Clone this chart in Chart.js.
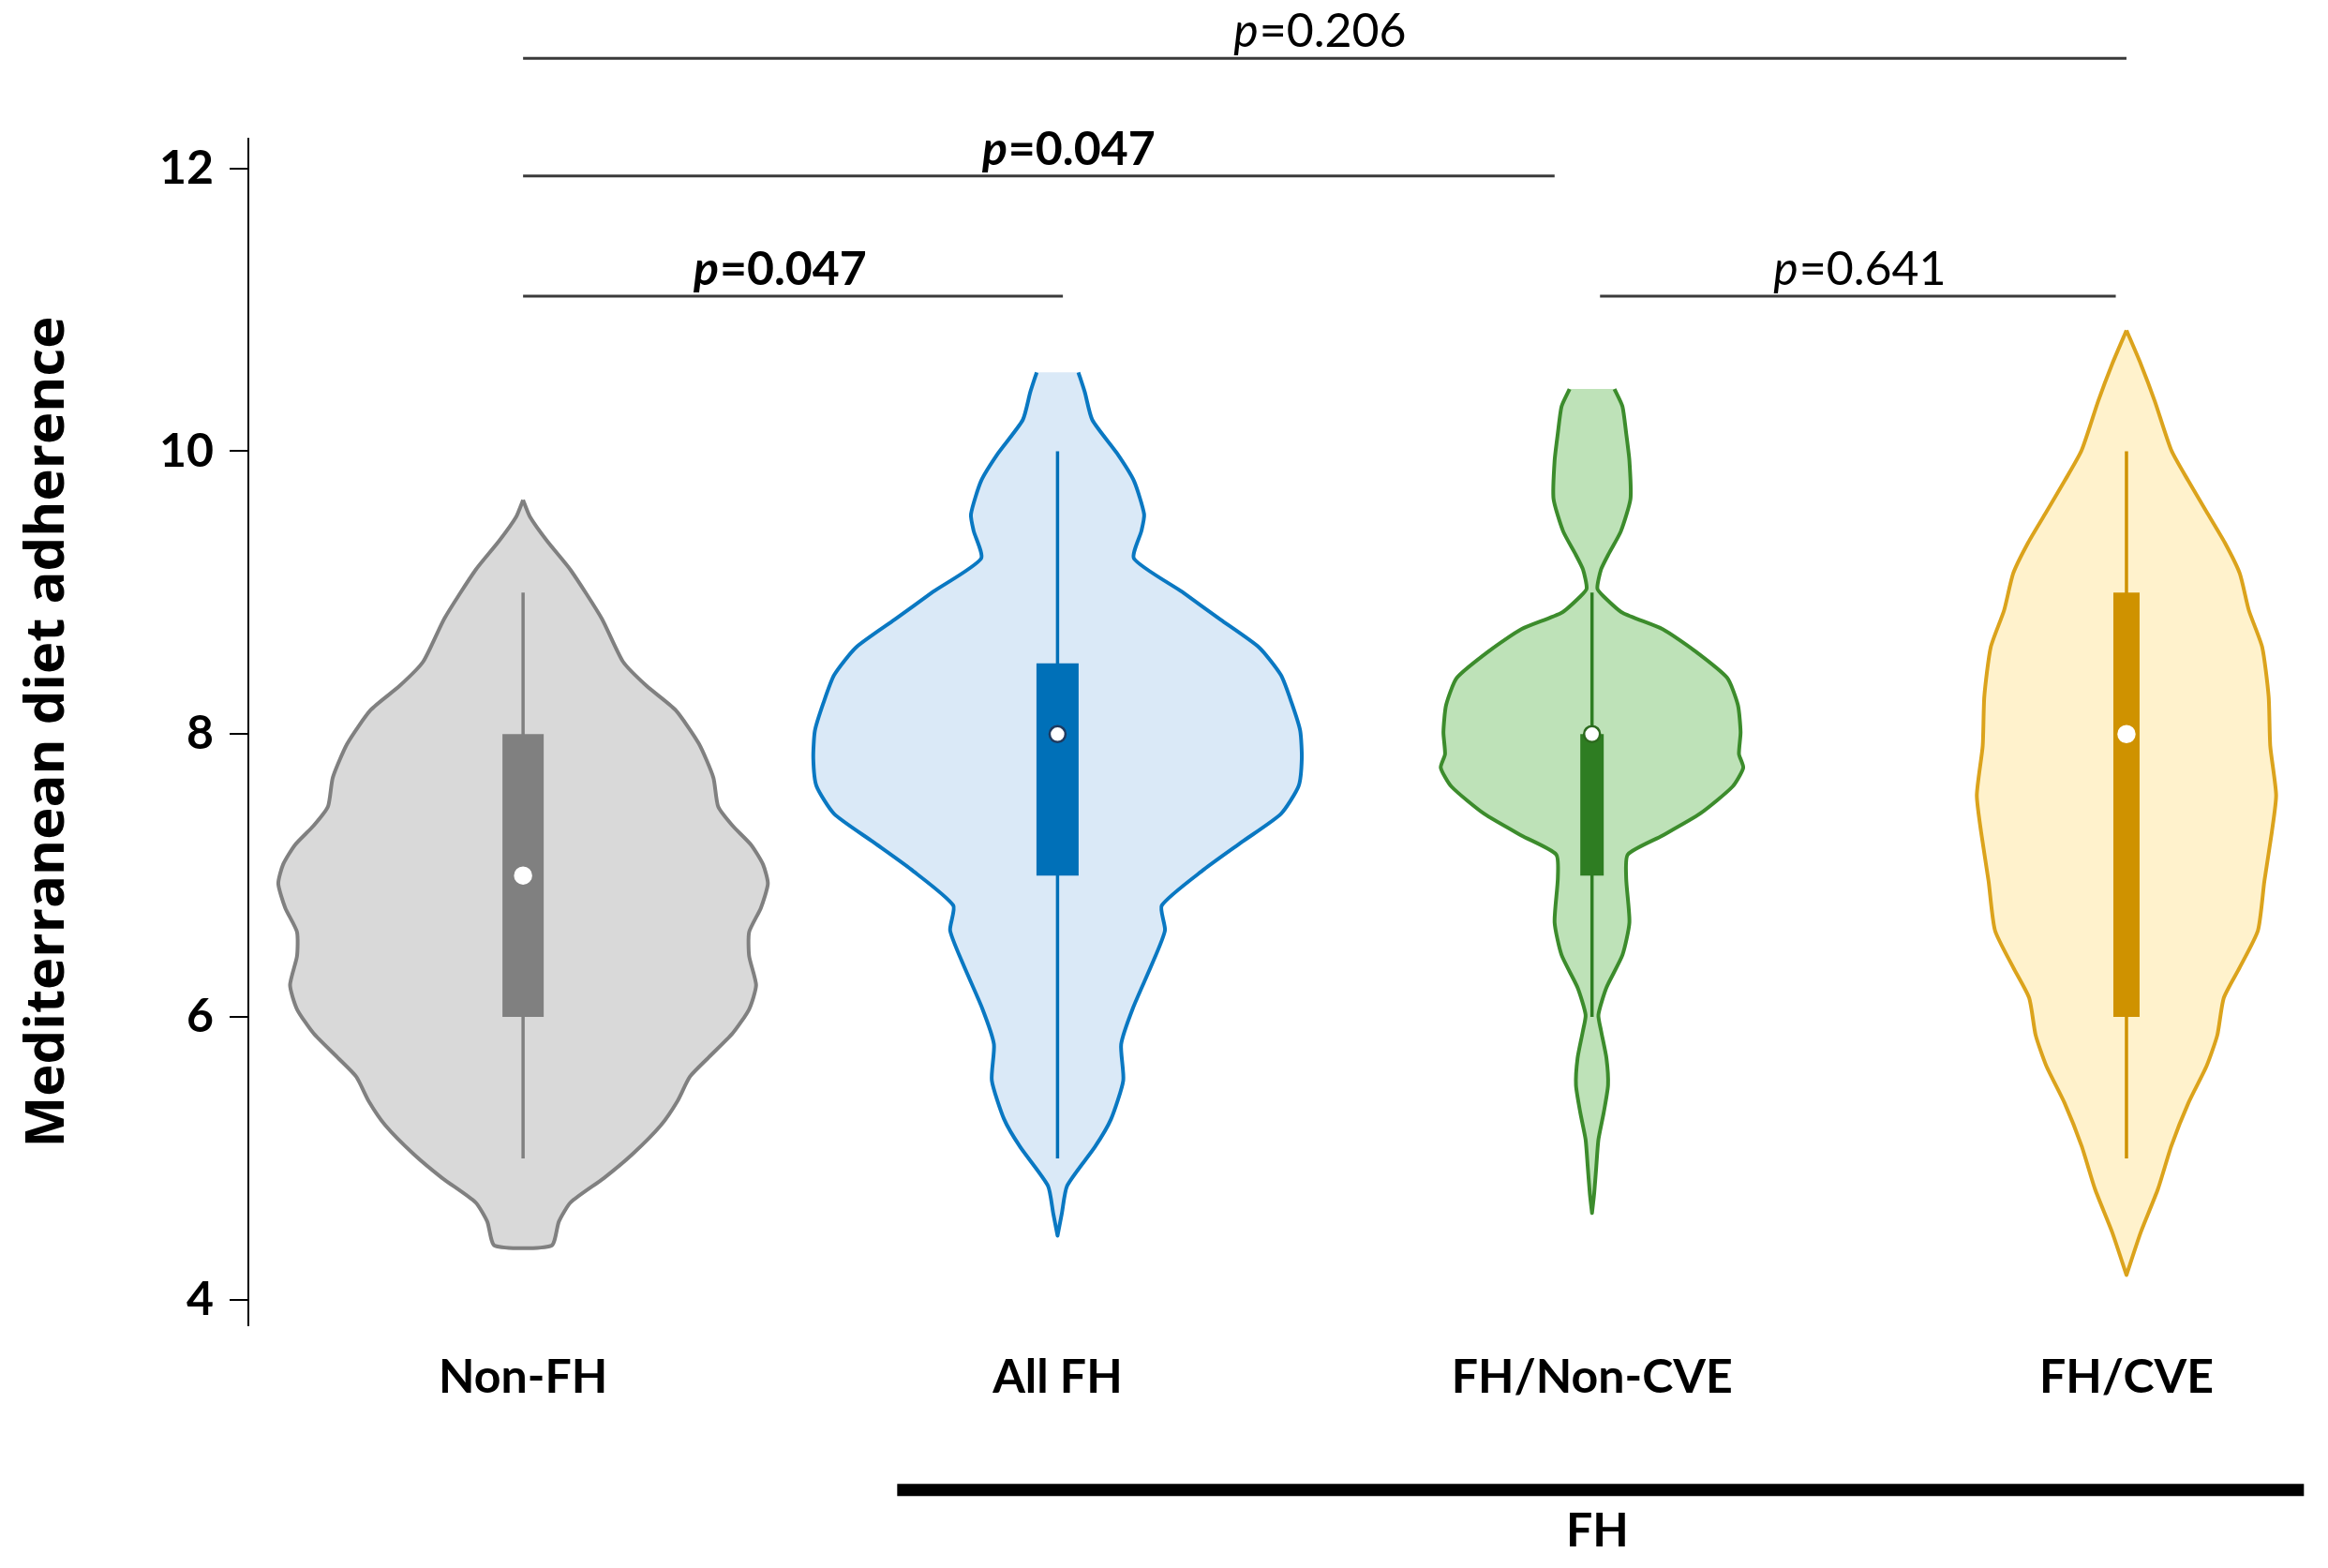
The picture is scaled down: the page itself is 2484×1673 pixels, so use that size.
<!DOCTYPE html>
<html>
<head>
<meta charset="utf-8">
<script src="https://cdn.jsdelivr.net/npm/chart.js@4.4.1/dist/chart.umd.min.js"></script>
<style>
  html, body { margin: 0; padding: 0; background: #fff; }
  canvas { display: block; }
</style>
</head>
<body>
<canvas id="violin" width="2484" height="1673"></canvas>
<script>
const categories = ['Non-FH', 'All FH', 'FH/Non-CVE', 'FH/CVE'];
const yTicks = [4, 6, 8, 10, 12];

// violin outlines read top to bottom: score level and half width (in category units)
const nonFhLevels = [9.655, 9.536, 9.365, 9.160, 8.819, 8.512, 8.341, 8.171, 7.932, 7.693, 7.488, 7.352, 7.215, 7.078, 6.942, 6.771, 6.601, 6.430, 6.225, 6.055, 5.884, 5.713, 5.577, 5.406, 5.235, 5.031, 4.860, 4.689, 4.553, 4.382];
const nonFhWidths = [0, 0.013, 0.045, 0.089, 0.147, 0.187, 0.231, 0.285, 0.329, 0.356, 0.365, 0.392, 0.427, 0.449, 0.458, 0.445, 0.423, 0.423, 0.436, 0.423, 0.392, 0.347, 0.312, 0.289, 0.258, 0.205, 0.151, 0.089, 0.067, 0.053];

const allFhLevels = [10.558, 10.418, 10.222, 9.987, 9.790, 9.555, 9.437, 9.241, 9.006, 8.809, 8.613, 8.417, 8.221, 8.024, 7.828, 7.632, 7.436, 7.240, 7.043, 6.788, 6.612, 6.376, 6.062, 5.807, 5.552, 5.277, 5.081, 4.806, 4.610, 4.453];
const allFhWidths = [0.039, 0.051, 0.065, 0.111, 0.143, 0.162, 0.157, 0.143, 0.233, 0.305, 0.377, 0.418, 0.438, 0.454, 0.457, 0.451, 0.418, 0.346, 0.274, 0.195, 0.201, 0.177, 0.141, 0.119, 0.123, 0.100, 0.070, 0.018, 0.008, 0];

const nonCveLevels = [10.440, 10.317, 10.125, 9.933, 9.664, 9.434, 9.280, 9.165, 9.030, 8.973, 8.858, 8.742, 8.589, 8.397, 8.205, 8.013, 7.859, 7.763, 7.629, 7.437, 7.283, 7.149, 6.976, 6.669, 6.438, 6.208, 6.016, 5.901, 5.709, 5.517, 5.325, 5.133, 4.941, 4.749, 4.614];
const nonCveWidths = [0.042, 0.057, 0.064, 0.070, 0.072, 0.054, 0.032, 0.017, 0.010, 0.022, 0.057, 0.132, 0.192, 0.253, 0.273, 0.278, 0.275, 0.283, 0.263, 0.202, 0.132, 0.067, 0.064, 0.070, 0.057, 0.027, 0.012, 0.017, 0.027, 0.030, 0.022, 0.012, 0.008, 0.004, 0];

const cveLevels = [10.855, 10.615, 10.354, 10.006, 9.789, 9.571, 9.354, 9.136, 8.875, 8.614, 8.265, 7.917, 7.569, 7.308, 6.960, 6.612, 6.351, 6.134, 5.872, 5.654, 5.393, 5.088, 4.784, 4.480, 4.175];
const cveWidths = [0, 0.027, 0.053, 0.084, 0.116, 0.150, 0.184, 0.212, 0.229, 0.254, 0.266, 0.269, 0.280, 0.272, 0.258, 0.246, 0.212, 0.182, 0.170, 0.150, 0.116, 0.084, 0.059, 0.027, 0];

// box plot summary per group
const whiskerLow = [5, 5, 6, 5];
const q1 = [6, 7, 7, 6];
const medians = [7, 8, 8, 8];
const q3 = [8, 8.5, 8, 9];
const whiskerHigh = [9, 10, 9, 10];

// pairwise comparisons: from / to group, bar level, label position
const sigFrom = [0, 0, 0, 2.015];
const sigTo = [3, 1.93, 1.01, 2.98];
const sigLevel = [12.778, 11.946, 11.097, 11.097];
const sigTextX = [1.49, 1.02, 0.48, 2.5];
const sigText = ['0.206', '0.047', '0.047', '0.641'];
const sigBold = [false, true, true, false];

// FH group bracket under the axis
const groupLabel = 'FH';
const groupFrom = 0.70;
const groupTo = 3.332;
const groupLevel = 2.655;
const groupLabelX = 2.01;
const groupLabelLevel = 2.36;

const levelsList = [nonFhLevels, allFhLevels, nonCveLevels, cveLevels];
const widthsList = [nonFhWidths, allFhWidths, nonCveWidths, cveWidths];

const fillColors = ['#D9D9D9', '#DAE9F7', '#BEE2B8', '#FFF2CC'];
const edgeColors = ['#808080', '#0A78C2', '#3C8C2C', '#DBA31C'];
const boxColors = ['#808080', '#0070B8', '#2E7D22', '#CF9200'];
const dotBorders = ['#FFFFFF', '#1F3A5F', '#2C6A1E', '#FFFFFF'];
const boxWidths = [44, 45, 25, 28];

function violinPoints(center, levels, widths) {
    let right = levels.map((v, i) => ({x: center + widths[i], y: v}));
    let left = levels.map((v, i) => ({x: center - widths[i], y: v})).reverse();
    return right.concat(left);
}

let datasets = [];

categories.forEach((name, i) => {
    datasets.push({
        label: name,
        data: violinPoints(i, levelsList[i], widthsList[i]),
        borderColor: edgeColors[i],
        backgroundColor: fillColors[i],
        borderWidth: 4,
        borderJoinStyle: 'round',
        fill: 'shape',
        tension: 0.2,
        pointRadius: 0,
        order: 4
    });
    datasets.push({
        data: [{x: i, y: whiskerLow[i]}, {x: i, y: whiskerHigh[i]}],
        borderColor: boxColors[i],
        borderWidth: 3.5,
        fill: false,
        pointRadius: 0,
        order: 3
    });
    datasets.push({
        data: [{x: i, y: q1[i]}, {x: i, y: q3[i]}],
        borderColor: boxColors[i],
        borderWidth: boxWidths[i],
        borderCapStyle: 'butt',
        fill: false,
        pointRadius: 0,
        order: 2
    });
    datasets.push({
        data: [{x: i, y: medians[i]}],
        showLine: false,
        pointRadius: 8.5,
        pointBackgroundColor: '#FFFFFF',
        pointBorderColor: dotBorders[i],
        pointBorderWidth: 2.5,
        order: 1
    });
});

sigFrom.forEach((from, i) => {
    datasets.push({
        data: [{x: from, y: sigLevel[i]}, {x: sigTo[i], y: sigLevel[i]}],
        borderColor: '#3A3A3A',
        borderWidth: 3,
        fill: false,
        pointRadius: 0,
        clip: false,
        order: 0
    });
});

datasets.push({
    data: [{x: groupFrom, y: groupLevel}, {x: groupTo, y: groupLevel}],
    borderColor: '#000000',
    borderWidth: 13,
    borderCapStyle: 'butt',
    fill: false,
    pointRadius: 0,
    clip: false,
    order: 0
});

const pValueLabels = {
    id: 'pValueLabels',
    afterDraw(chart) {
        const {ctx, scales: {x, y}} = chart;
        ctx.save();
        ctx.fillStyle = '#000';
        ctx.textAlign = 'left';
        ctx.textBaseline = 'alphabetic';
        sigText.forEach((txt, i) => {
            let weight = sigBold[i] ? 'bold ' : '';
            let pFont = 'italic ' + weight + '50px Lato';
            let restFont = weight + '50px Lato';
            ctx.font = pFont;
            let wp = ctx.measureText('p').width;
            ctx.font = restFont;
            let wr = ctx.measureText('=' + txt).width;
            let left = x.getPixelForValue(sigTextX[i]) - (wp + wr) / 2;
            let base = y.getPixelForValue(sigLevel[i]) - 12;
            ctx.font = pFont;
            ctx.fillText('p', left, base);
            ctx.font = restFont;
            ctx.fillText('=' + txt, left + wp + 1, base);
        });
        ctx.font = 'bold 50px Lato';
        ctx.textAlign = 'center';
        ctx.textBaseline = 'middle';
        ctx.fillText(groupLabel, x.getPixelForValue(groupLabelX), y.getPixelForValue(groupLabelLevel));
        ctx.restore();
    }
};

function draw() {
    new Chart(document.getElementById('violin'), {
        type: 'line',
        data: { datasets: datasets },
        plugins: [pValueLabels],
        options: {
            responsive: false,
            devicePixelRatio: 1,
            animation: false,
            events: [],
            layout: { padding: { left: 0, right: 16, top: 148, bottom: 0 } },
            plugins: {
                legend: { display: false },
                tooltip: { enabled: false }
            },
            scales: {
                x: {
                    type: 'linear',
                    min: -0.514,
                    max: 3.349,
                    afterFit: (scale) => { scale.height = 259; },
                    afterBuildTicks: (scale) => { scale.ticks = categories.map((c, i) => ({value: i})); },
                    grid: { display: false, drawTicks: false },
                    border: { display: false },
                    ticks: {
                        color: '#000',
                        padding: 26,
                        font: { family: 'Lato', weight: 'bold', size: 50 },
                        callback: (value) => categories[value]
                    }
                },
                y: {
                    type: 'linear',
                    min: 3.82,
                    max: 12.21,
                    afterFit: (scale) => { scale.width = 265; },
                    afterBuildTicks: (scale) => { scale.ticks = yTicks.map(v => ({value: v})); },
                    grid: {
                        drawOnChartArea: false,
                        drawTicks: true,
                        tickLength: 20,
                        color: '#000',
                        lineWidth: 2
                    },
                    border: { display: true, color: '#000', width: 2 },
                    ticks: {
                        color: '#000',
                        padding: 17,
                        font: { family: 'Lato', weight: 'bold', size: 50 }
                    },
                    title: {
                        display: true,
                        text: 'Mediterranean diet adherence',
                        color: '#000',
                        font: { family: 'Open Sans', weight: 'bold', size: 58 },
                        padding: { top: 17, bottom: 0 }
                    }
                }
            }
        }
    });
}

Promise.all([
    document.fonts.load('bold 50px Lato'),
    document.fonts.load('50px Lato'),
    document.fonts.load('italic 50px Lato'),
    document.fonts.load('bold 58px "Open Sans"')
]).then(draw, draw);
</script>
</body>
</html>
